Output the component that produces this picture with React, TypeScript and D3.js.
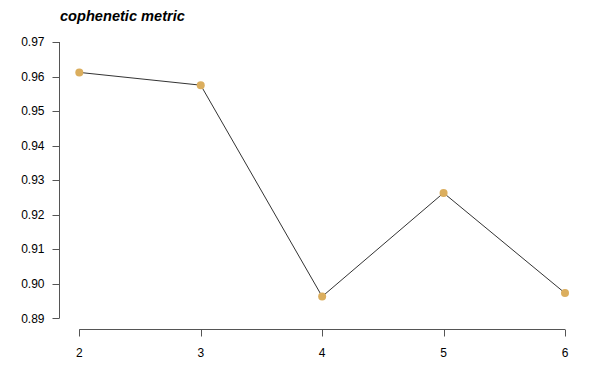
import React from "react";
import * as d3 from "d3";

const ranks = [2, 3, 4, 5, 6];
const cophenetic = [0.9612, 0.9575, 0.8963, 0.9263, 0.8973];
const yTicks = [0.89, 0.9, 0.91, 0.92, 0.93, 0.94, 0.95, 0.96, 0.97];
const title = "cophenetic metric";

export default function App() {
  const W = 600, H = 375;
  const x = d3.scaleLinear().domain([2, 6]).range([79.3, 565]);
  const y = d3.scaleLinear().domain([0.89, 0.97]).range([318.3, 42]);
  const line = d3
    .line<number>()
    .x((_, i) => x(ranks[i]))
    .y((d) => y(d));
  const axisX = 59.5;
  const axisY = 329.5;
  const font = "Liberation Sans, Arial, Helvetica, sans-serif";
  return (
    <svg
      width={W}
      height={H}
      style={{ position: "absolute", left: 0, top: 0, background: "#fff" }}
      fontFamily={font}
    >
      <text x={60} y={21} fontSize={14.6} fontWeight="bold" fontStyle="italic" fill="#000">
        {title}
      </text>
      {/* y axis */}
      <line x1={axisX} x2={axisX} y1={y(0.97)} y2={y(0.89)} stroke="#555" strokeWidth={1} />
      {yTicks.map((t) => (
        <g key={t}>
          <line x1={axisX - 7} x2={axisX} y1={Math.round(y(t)) + 0.5} y2={Math.round(y(t)) + 0.5} stroke="#555" />
          <text x={44.5} y={y(t)} dy="0.35em" textAnchor="end" fontSize={12} fill="#000">
            {d3.format(".2f")(t)}
          </text>
        </g>
      ))}
      {/* x axis */}
      <line x1={x(2)} x2={x(6)} y1={axisY} y2={axisY} stroke="#555" />
      {ranks.map((r) => (
        <g key={r}>
          <line x1={Math.round(x(r)) + 0.5} x2={Math.round(x(r)) + 0.5} y1={axisY} y2={axisY + 7} stroke="#555" />
          <text x={x(r)} y={353} dy="0.35em" textAnchor="middle" fontSize={12} fill="#000">
            {r}
          </text>
        </g>
      ))}
      <path d={line(cophenetic) || ""} fill="none" stroke="#333" strokeWidth={1} />
      {cophenetic.map((v, i) => (
        <circle key={i} cx={x(ranks[i])} cy={y(v)} r={4} fill="#DBAE5E" />
      ))}
    </svg>
  );
}
